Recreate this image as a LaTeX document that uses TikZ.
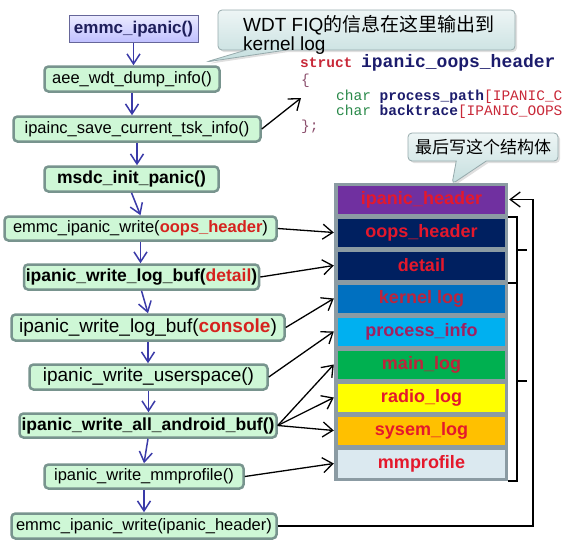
\documentclass[tikz,border=0pt]{standalone}
\usepackage{fontspec}
\setmainfont{Liberation Sans}
\newfontfamily\cjk{Noto Sans CJK SC}
\newfontfamily\codefont{Liberation Mono}
\usepackage{tikz}
\usetikzlibrary{
  arrows.meta, positioning, shapes.callouts, shadows
}
\usepackage{xcolor}
\definecolor{boxfill}{RGB}{206, 247, 214}
\definecolor{boxborder}{RGB}{120, 148, 142}
\definecolor{flowblue}{RGB}{58, 58, 168}
\definecolor{argred}{RGB}{214, 34, 30}
\definecolor{topnavy}{RGB}{30, 30, 90}
\definecolor{notefill}{RGB}{196, 222, 222}
\definecolor{noteline}{RGB}{150, 170, 172}
\definecolor{stackgray}{RGB}{139, 155, 163}
\definecolor{cellpurple}{RGB}{112, 48, 160}
\definecolor{cellnavy}{RGB}{0, 32, 96}
\definecolor{cellblue}{RGB}{0, 112, 192}
\definecolor{cellsky}{RGB}{0, 176, 240}
\definecolor{cellgreen}{RGB}{0, 176, 80}
\definecolor{cellyellow}{RGB}{255, 255, 0}
\definecolor{cellorange}{RGB}{255, 192, 0}
\definecolor{cellpale}{RGB}{219, 233, 240}
\definecolor{cellred}{RGB}{228, 24, 44}
\definecolor{celldark}{RGB}{190, 36, 60}
\definecolor{cellmagenta}{RGB}{160, 32, 96}
\definecolor{kwred}{RGB}{200, 40, 56}
\definecolor{kwgreen}{RGB}{40, 136, 72}
\definecolor{codenavy}{RGB}{28, 28, 108}
\definecolor{codebrace}{RGB}{140, 80, 110}

\begin{document}
\begin{tikzpicture}[x=1pt, y=-1pt,
    fnbox/.style={draw=boxborder, line width=2.5pt, fill=boxfill,
      rounded corners=4pt, inner sep=0pt,
      font=\fontsize{16.5}{18}\selectfont},
    bigtxt/.style={font=\fontsize{19}{21}\selectfont},
    boldtxt/.style={font=\bfseries\fontsize{17.5}{20}\selectfont},
    flow/.style={draw=flowblue, line width=1.5pt,
      -{Straight Barb[length=10pt,width=13pt]}},
    wr/.style={draw=black, line width=1.3pt,
      -{Straight Barb[length=10pt,width=15pt]}},
    brk/.style={draw=black, line width=2pt},
    note/.style={rectangle callout, draw=noteline, line width=0.8pt,
      top color=white!70!notefill, bottom color=notefill,
      rounded corners=4pt, inner sep=0pt,
      drop shadow={opacity=0.25, shadow xshift=2pt, shadow yshift=-2pt}},
    cell/.style={minimum width=167pt, minimum height=28pt, inner sep=0pt,
      font=\bfseries\fontsize{18}{20}\selectfont},
    codetxt/.style={anchor=west, inner sep=0pt,
      font=\codefont\fontsize{14.5}{16}\selectfont}
  ]
  \useasboundingbox (0,0) rectangle (568,541);

  % call chain
  \node[draw=gray!80!blue, line width=0.8pt, top color=blue!8,
        bottom color=blue!25, inner sep=0pt,
        minimum width=129pt, minimum height=27pt, text=topnavy,
        font=\bfseries\fontsize{17}{19}\selectfont]
        (ipanic) at (133.5,29) {emmc\_ipanic()};
  \node[fnbox, minimum width=175pt, minimum height=25pt]
        (wdtdump) at (132,79) {aee\_wdt\_dump\_info()};
  \node[fnbox, minimum width=247pt, minimum height=25pt]
        (tskinfo) at (137,129) {ipainc\_save\_current\_tsk\_info()};
  \node[fnbox, boldtxt, minimum width=174pt, minimum height=25pt]
        (initpanic) at (131.5,179) {msdc\_init\_panic()};
  \node[fnbox, minimum width=272pt, minimum height=24pt]
        (oopswr) at (140.5,228.5)
        {emmc\_ipanic\_write(\textcolor{argred}{\textbf{oops\_header}})};
  \node[fnbox, boldtxt, minimum width=235pt, minimum height=25pt]
        (detailwr) at (141.5,277)
        {ipanic\_write\_log\_buf(\textcolor{argred}{detail})};
  \node[fnbox, bigtxt, minimum width=273pt, minimum height=26pt]
        (consolewr) at (148,327.5)
        {ipanic\_write\_log\_buf(\textcolor{argred}{\textbf{console}})};
  \node[fnbox, bigtxt, minimum width=238pt, minimum height=25pt]
        (userwr) at (148.5,377) {ipanic\_write\_userspace()};
  \node[fnbox, boldtxt, minimum width=257pt, minimum height=24pt]
        (androidwr) at (148,425.5) {ipanic\_write\_all\_android\_buf()};
  \node[fnbox, minimum width=199pt, minimum height=24pt]
        (mmpwr) at (144,476.5) {ipanic\_write\_mmprofile()};
  \node[fnbox, minimum width=265pt, minimum height=25pt]
        (hdrwr) at (144,526) {emmc\_ipanic\_write(ipanic\_header)};

  \draw[flow] (ipanic.south) -- (ipanic.south |- wdtdump.north);
  \draw[flow] (wdtdump.south) -- (wdtdump.south |- tskinfo.north);
  \draw[flow] (tskinfo.south) -- (tskinfo.south |- initpanic.north);
  \draw[flow] (initpanic.south) -- (oopswr.north);
  \draw[flow] (oopswr.south) -- (oopswr.south |- detailwr.north);
  \draw[flow] (detailwr.south) -- (consolewr.north);
  \draw[flow] (consolewr.south) -- (consolewr.south |- userwr.north);
  \draw[flow] (userwr.south) -- (userwr.south |- androidwr.north);
  \draw[flow] (androidwr.south) -- (mmpwr.north);
  \draw[flow] (mmpwr.south) -- (mmpwr.south |- hdrwr.north);

  % notes
  \coordinate (fiqtip) at (206,62);
  \node[note, minimum width=297pt, minimum height=40pt,
        callout absolute pointer={(fiqtip)}, callout pointer width=40pt]
        (fiqnote) at (366.5,30) {};
  \node[anchor=north west, inner sep=0pt, align=left,
        font=\fontsize{19}{19}\selectfont]
        (fiqtext) at (243,15) {WDT FIQ{\cjk 的信息在这里输出到}\\kernel log};

  \node[note, minimum width=150pt, minimum height=28pt,
        callout absolute pointer={(452,184)}, callout pointer width=30pt,
        font=\cjk\fontsize{17}{19}\selectfont]
        (lastnote) at (483,147) {最后写这个结构体};

  % struct source
  \begin{scope}
    \clip (0,0) rectangle (568,541);
    \node[codetxt] (codeA) at (300,63)
      {\textcolor{kwred}{\textbf{struct}}
       \textcolor{codenavy}{\bfseries\fontsize{18}{18}\selectfont ipanic\_oops\_header}};
    \node[codetxt] (codeB) at (301,81) {\textcolor{codebrace}{\{}};
    \node[codetxt] (codeC) at (336,97)
      {\textcolor{kwgreen}{char} \textcolor{codenavy}{\textbf{process\_path}}\textcolor{kwred}{[IPANIC\_C}};
    \node[codetxt] (codeD) at (336,112)
      {\textcolor{kwgreen}{char} \textcolor{codenavy}{\textbf{backtrace}}\textcolor{kwred}{[IPANIC\_OOPS}};
    \node[codetxt] (codeE) at (301,127) {\textcolor{codebrace}{\};}};
  \end{scope}
  \coordinate (structtip) at (301,98);
  \draw[wr] (tskinfo.east) -- (structtip);

  % layout of the panic record
  \node[fill=stackgray, minimum width=174pt, minimum height=298pt,
        inner sep=0pt] (stack) at (421,332) {};
  \foreach \cname/\ctext/\cbg/\cfg [count=\i from 0] in {
      hdr/ipanic\_header/cellpurple/cellred,
      oops/oops\_header/cellnavy/cellred,
      detail/detail/cellnavy/cellred,
      kernel/kernel log/cellblue/celldark,
      process/process\_info/cellsky/cellmagenta,
      mainlog/main\_log/cellgreen/celldark,
      radio/radio\_log/cellyellow/cellred,
      sysem/sysem\_log/cellorange/cellred,
      mmp/mmprofile/cellpale/cellred}
    \node[cell, fill=\cbg, text=\cfg] (\cname) at (421.5,{199.5+33*\i}) {\ctext};

  \draw[wr] (oopswr.east) -- ([xshift=-4pt]oops.west);
  \draw[wr] (detailwr.east) -- ([xshift=-4pt]detail.west);
  \draw[wr] (consolewr.east) -- ([xshift=-4pt]kernel.west);
  \draw[wr] (userwr.east) -- ([xshift=-4pt]process.west);
  \draw[wr] (androidwr.east) -- ([xshift=-4pt]mainlog.west);
  \draw[wr] (androidwr.east) -- ([xshift=-4pt]radio.west);
  \draw[wr] (androidwr.east) -- ([xshift=-4pt]sysem.west);
  \draw[wr] (mmpwr.east) -- ([xshift=-4pt]mmp.west);

  % header written last
  \coordinate (retx) at (533,0);
  \draw[wr] (hdrwr.east) -| (retx |- hdr.east) -- ([xshift=4pt]hdr.east);

  % brackets
  \draw[brk] (508,217) -- (517,217) -- (517,481) -- (508,481);
  \draw[brk] (517,283) -- (508,283);
  \draw[brk] (517,250) -- (527,250);
  \draw[brk] (517,381) -- (527,381);
\end{tikzpicture}
\end{document}
